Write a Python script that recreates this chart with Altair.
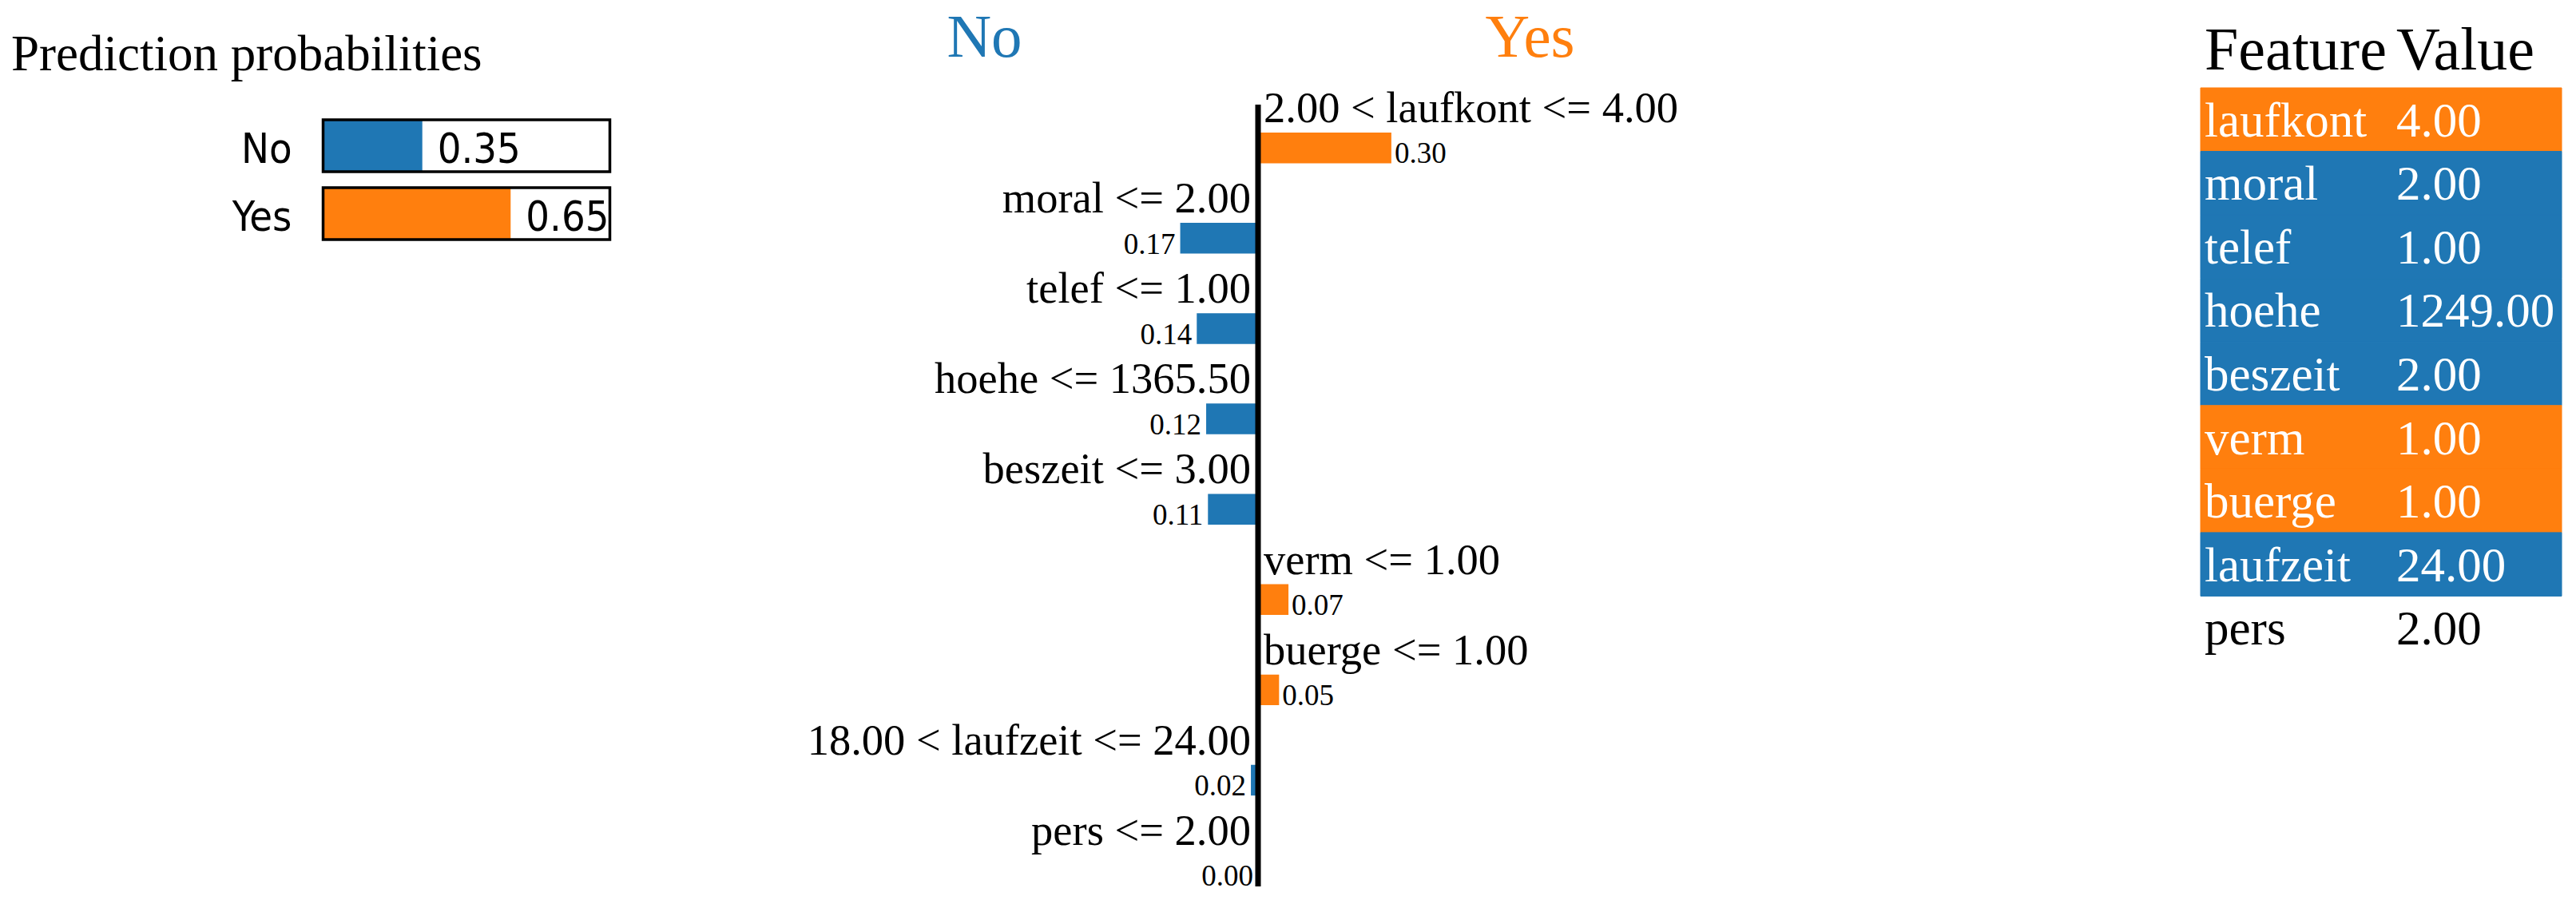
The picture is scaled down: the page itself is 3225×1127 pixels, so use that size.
import altair as alt
import pandas as pd

# ---------------- data ----------------
classes = ["No", "Yes"]
probabilities = [0.346, 0.654]

features = ["laufkont", "moral", "telef", "hoehe", "beszeit",
            "verm", "buerge", "laufzeit", "pers"]
conditions = ["2.00 < laufkont <= 4.00", "moral <= 2.00", "telef <= 1.00",
              "hoehe <= 1365.50", "beszeit <= 3.00", "verm <= 1.00",
              "buerge <= 1.00", "18.00 < laufzeit <= 24.00", "pers <= 2.00"]
weights = [0.298, -0.174, -0.137, -0.116, -0.112, 0.068, 0.047, -0.016, 0.0]
feature_values = ["4.00", "2.00", "1.00", "1249.00", "2.00",
                  "1.00", "1.00", "24.00", "2.00"]
table_columns = ["Feature", "Value"]
title_text = ["Prediction probabilities"]

# ---------------- styles ----------------
BLUE = "#1f77b4"
ORANGE = "#ff7f0e"
SERIF = "Liberation Serif, Times New Roman, serif"
SANS = "DejaVu Sans Condensed, DejaVu Sans, sans-serif"

prob_df = pd.DataFrame({"cls": classes, "p": probabilities})
exp_df = pd.DataFrame({"feature": features, "condition": conditions, "weight": weights})
tab_rows = []
for f, v, w in zip(features, feature_values, weights):
    tab_rows.append({"feature": f, "col": table_columns[0], "text": f, "weight": w})
    tab_rows.append({"feature": f, "col": table_columns[1], "text": v, "weight": w})
tab_df = pd.DataFrame(tab_rows)
head_df = pd.DataFrame({"col": table_columns})
title_df = pd.DataFrame({"t": title_text})

side_color = alt.Scale(domain=classes, range=[BLUE, ORANGE])

# ---------------- left panel: prediction probabilities ----------------
xL = alt.Scale(domain=[0, 1], range=[396.5, 755.5])
yL = alt.Scale(domain=classes, range=[138, 288], paddingInner=0.235, paddingOuter=0)
Y_L = alt.Y("cls:N", scale=yL, axis=None)
pb = alt.Chart(prob_df).transform_calculate(lo="0", hi="1")

title = alt.Chart(title_df).mark_text(
    align="left", baseline="alphabetic", font=SERIF, fontSize=63, color="black"
).encode(x=alt.value(6), y=alt.value(76), text="t:N")

box_bg = pb.mark_bar(color="white").encode(
    x=alt.X("lo:Q", scale=xL, axis=None), x2="hi:Q", y=Y_L)
fill = pb.mark_bar().encode(
    x=alt.X("lo:Q", scale=xL, axis=None), x2="p:Q", y=Y_L,
    color=alt.Color("cls:N", scale=side_color, legend=None))
pvals = pb.mark_text(
    align="left", baseline="alphabetic", dx=19, dy=21.5,
    font=SANS, fontSize=52, color="black"
).encode(x=alt.X("p:Q", scale=xL, axis=None), y=Y_L,
         text=alt.Text("p:Q", format=".2f"))
box_line = pb.mark_bar(filled=False, color="black", strokeWidth=3.5).encode(
    x=alt.X("lo:Q", scale=xL, axis=None), x2="hi:Q", y=Y_L)
plabels = pb.mark_text(
    align="right", baseline="alphabetic", dx=-39, dy=21.5,
    font=SANS, fontSize=52, color="black"
).encode(x=alt.X("lo:Q", scale=xL, axis=None), y=Y_L, text="cls:N")

left = alt.layer(title, box_bg, fill, pvals, box_line, plabels).properties(
    width=800, height=1111)

# ---------------- middle panel: explanation bars ----------------
xM = alt.Scale(domain=[-1, 1], range=[207, 1327])
yM = alt.Scale(domain=features, range=[154, 1097.3], paddingInner=0.66, paddingOuter=0)
Y_M = alt.Y("feature:N", scale=yM, axis=None)
eb = alt.Chart(exp_df).transform_calculate(
    side="datum.weight > 0 ? 'Yes' : 'No'", mag="abs(datum.weight)", zero="0")

bars = eb.mark_bar().encode(
    x=alt.X("weight:Q", scale=xM, axis=None, stack=None), x2="zero:Q", y=Y_M,
    color=alt.Color("side:N", scale=side_color, legend=None))
rule = alt.Chart(exp_df).transform_aggregate(n="count()").transform_calculate(
    zero="0").mark_rule(color="black", strokeWidth=7).encode(
    x=alt.X("zero:Q", scale=xM, axis=None), y=alt.value(119), y2=alt.value(1098))

pos = eb.transform_filter("datum.weight > 0")
neg = eb.transform_filter("datum.weight <= 0")
pos_cond = pos.mark_text(align="left", baseline="alphabetic", dx=7, dy=-32.25,
                         font=SERIF, fontSize=54.5, color="black").encode(
    x=alt.X("zero:Q", scale=xM, axis=None), y=Y_M, text="condition:N")
neg_cond = neg.mark_text(align="right", baseline="alphabetic", dx=-9, dy=-32.25,
                         font=SERIF, fontSize=54.5, color="black").encode(
    x=alt.X("zero:Q", scale=xM, axis=None), y=Y_M, text="condition:N")
pos_val = pos.mark_text(align="left", baseline="alphabetic", dx=4, dy=19.25,
                        font=SERIF, fontSize=37, color="black").encode(
    x=alt.X("weight:Q", scale=xM, axis=None), y=Y_M,
    text=alt.Text("mag:Q", format=".2f"))
neg_val = neg.mark_text(align="right", baseline="alphabetic", dx=-6, dy=19.25,
                        font=SERIF, fontSize=37, color="black").encode(
    x=alt.X("weight:Q", scale=xM, axis=None), y=Y_M,
    text=alt.Text("mag:Q", format=".2f"))

head_no = alt.Chart(prob_df).transform_filter("datum.cls == 'No'").mark_text(
    align="center", baseline="alphabetic", font=SERIF, fontSize=77).encode(
    x=alt.value(424.5), y=alt.value(58.7), text="cls:N",
    color=alt.Color("cls:N", scale=side_color, legend=None))
head_yes = alt.Chart(prob_df).transform_filter("datum.cls == 'Yes'").mark_text(
    align="center", baseline="alphabetic", font=SERIF, fontSize=77).encode(
    x=alt.value(1107.5), y=alt.value(58.7), text="cls:N",
    color=alt.Color("cls:N", scale=side_color, legend=None))

middle = alt.layer(bars, rule, pos_cond, neg_cond, pos_val, neg_val,
                   head_no, head_yes).properties(width=1840, height=1111)

# ---------------- right panel: feature/value table ----------------
xR = alt.Scale(type="point", domain=table_columns, range=[112, 352], padding=0)
yR = alt.Scale(domain=features, range=[98, 814], paddingInner=0, paddingOuter=0)
Y_R = alt.Y("feature:N", scale=yR, axis=None)

row_bg = alt.Chart(exp_df).transform_filter("datum.weight != 0").transform_calculate(
    side="datum.weight > 0 ? 'Yes' : 'No'").mark_rect(strokeWidth=1).encode(
    x=alt.value(107), x2=alt.value(559), y=Y_R,
    color=alt.Color("side:N", scale=side_color, legend=None),
    stroke=alt.Stroke("side:N", scale=side_color, legend=None))
cells = alt.Chart(tab_df).mark_text(
    align="left", baseline="alphabetic", dy=21, font=SERIF, fontSize=61).encode(
    x=alt.X("col:N", scale=xR, axis=None), y=Y_R, text="text:N",
    color=alt.when("datum.weight != 0").then(alt.value("white")).otherwise(alt.value("black")))
header = alt.Chart(head_df).mark_text(
    align="left", baseline="alphabetic", font=SERIF, fontSize=76, color="black").encode(
    x=alt.X("col:N", scale=xR, axis=None), y=alt.value(75.3), text="col:N")

right = alt.layer(row_bg, cells, header).properties(width=560, height=1111)

chart = alt.hconcat(left, middle, right, spacing=0, bounds="flush").properties(
    padding=0).configure_view(stroke=None)

chart.save("out.html", embed_options={"renderer": "svg", "actions": False})
